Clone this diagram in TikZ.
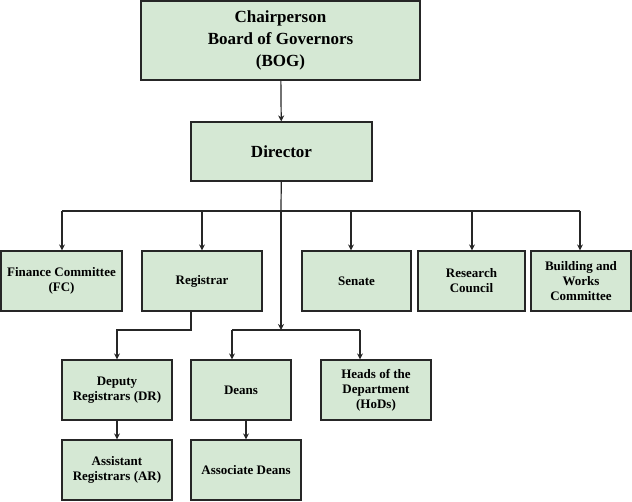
\documentclass[tikz,border=0pt]{standalone}
\usepackage{fontspec}
\setmainfont{Liberation Serif}
\usetikzlibrary{arrows.meta}
\definecolor{boxfill}{HTML}{D5E8D4}
\begin{document}
\begin{tikzpicture}[x=1pt,y=-1pt,
 box/.style={draw=black!85,fill=boxfill,line width=1.2pt,align=center,font=\bfseries\fontsize{13}{15}\selectfont,inner sep=0pt},
 big/.style={font=\bfseries\fontsize{17}{22}\selectfont},
 con/.style={line width=1.2pt,draw=black!85},
 arr/.style={con,-{Stealth[length=6pt,width=6pt]}}]
\useasboundingbox (0,0) rectangle (632,502);
\newcommand{\bx}[7][]{\node[box,#1,minimum width=#5-#3,minimum height=#6-#4] (#2) at ({(#3+#5)/2},{(#4+#6)/2}) {#7};}
\bx[big]{chair}{141}{1}{420}{80}{Chairperson\\Board of Governors\\(BOG)}
\bx[big]{dir}{191}{122}{372}{181}{Director}
\bx{fc}{1}{251}{122}{311}{Finance Committee\\(FC)}
\bx{reg}{142}{251}{262}{311}{Registrar}
\bx{sen}{302}{251}{411}{311}{Senate}
\bx{rc}{418}{251}{525}{311}{Research\\Council}
\bx{bwc}{531}{251}{631}{311}{Building and\\Works\\Committee}
\bx{dr}{62}{360}{172}{420}{Deputy\\Registrars (DR)}
\bx{deans}{191}{360}{291}{420}{Deans}
\bx{hod}{321}{360}{431}{420}{Heads of the\\Department\\(HoDs)}
\bx{ar}{62}{440}{172}{500}{Assistant\\Registrars (AR)}
\bx{ad}{191}{440}{301}{500}{Associate Deans}
\coordinate (j1) at (281,211);
\coordinate (j2) at (281,330);
\coordinate (j3) at (191,330);
\draw[arr] (chair) -- (dir);
\draw[con] (dir) -- (j1);
\draw[con] (62,211) -- (580,211);
\draw[arr] (62,211) -- (fc.north -| 62,0);
\draw[arr] (202,211) -- (reg.north -| 202,0);
\draw[arr] (351,211) -- (sen.north -| 351,0);
\draw[arr] (472,211) -- (rc.north -| 472,0);
\draw[arr] (580,211) -- (bwc.north -| 580,0);
\draw[arr] (j1) -- (j2);
\draw[con] (232,330) -- (360,330);
\draw[arr] (232,330) -- (deans.north -| 232,0);
\draw[arr] (360,330) -- (hod.north -| 360,0);
\draw[arr] (reg.south -| j3) -- (j3) -- (117,330) -- (dr.north -| 117,0);
\draw[arr] (dr.south -| 117,0) -- (ar.north -| 117,0);
\draw[arr] (deans.south -| 246,0) -- (ad.north -| 246,0);
\end{tikzpicture}
\end{document}
